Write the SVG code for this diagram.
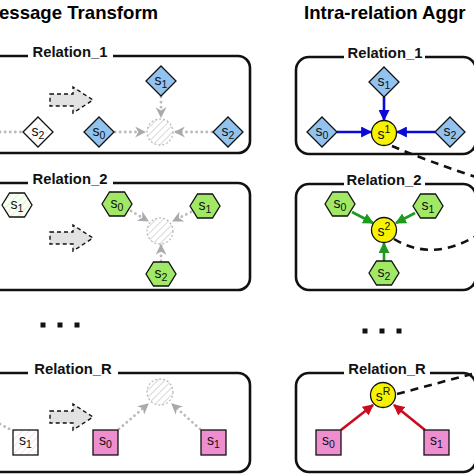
<svg xmlns="http://www.w3.org/2000/svg" width="474" height="474" viewBox="0 0 474 474">
<style>
.title{font-family:"Liberation Sans",Arial,Helvetica,sans-serif;font-weight:bold;font-size:18.6px;fill:#000}
.rl{font-family:"Liberation Sans",Arial,Helvetica,sans-serif;font-weight:bold;font-size:14.8px;fill:#111;text-anchor:middle}
.nl{font-family:"Liberation Sans",Arial,Helvetica,sans-serif;font-size:14px;fill:#111;text-anchor:middle}
.sub{font-size:10.5px}
.box{fill:none;stroke:#111;stroke-width:2.6}
.lblbg{fill:#fff}
.dia{fill:#92c3ef;stroke:#111;stroke-width:1.3}
.hex{fill:#a0e866;stroke:#111;stroke-width:1.3}
.sq{fill:#ee8ecf;stroke:#111;stroke-width:1.3}
.agg{fill:#f7f200;stroke:#111;stroke-width:1.3}
.ghost{fill:url(#hatchg);stroke:#bbb;stroke-width:1.3;stroke-dasharray:2 2}
.fdia{fill:url(#hatchb);stroke:#111;stroke-width:1.3}
.fhex{fill:url(#hatchgr);stroke:#111;stroke-width:1.3}
.fsq{fill:url(#hatchp);stroke:#111;stroke-width:1.3}
.dot{fill:none;stroke:#bbb;stroke-width:2.8;stroke-linecap:round;stroke-dasharray:0.1 5}
.blue{fill:none;stroke:#0a0ad8;stroke-width:2.6}
.green{fill:none;stroke:#1e9a1e;stroke-width:2.6}
.red{fill:none;stroke:#cc0c1e;stroke-width:2.6}
.dash{fill:none;stroke:#111;stroke-width:2.6;stroke-dasharray:8 6}
.barrow{fill:#e2e2e2;stroke:#111;stroke-width:1.4;stroke-dasharray:4 3}
</style>
<defs>
<pattern id="hatchg" patternUnits="userSpaceOnUse" width="5" height="5" patternTransform="rotate(45)">
<rect width="5" height="5" fill="#fff"/><line x1="0" y1="0" x2="0" y2="5" stroke="#c8c8c8" stroke-width="1.4"/>
</pattern>
<pattern id="hatchb" patternUnits="userSpaceOnUse" width="5" height="5" patternTransform="rotate(45)">
<rect width="5" height="5" fill="#fff"/><line x1="0" y1="0" x2="0" y2="5" stroke="#d6e4f2" stroke-width="1.2"/>
</pattern>
<pattern id="hatchgr" patternUnits="userSpaceOnUse" width="5" height="5" patternTransform="rotate(45)">
<rect width="5" height="5" fill="#fbfff5"/><line x1="0" y1="0" x2="0" y2="5" stroke="#cdeeb5" stroke-width="1.2"/>
</pattern>
<pattern id="hatchp" patternUnits="userSpaceOnUse" width="5" height="5" patternTransform="rotate(45)">
<rect width="5" height="5" fill="#fff"/><line x1="0" y1="0" x2="0" y2="5" stroke="#f0c8e2" stroke-width="1.2"/>
</pattern>
<marker id="mblue" viewBox="0 0 10 10" markerUnits="userSpaceOnUse" markerWidth="11" markerHeight="11" refX="9" refY="5" orient="auto"><path d="M0,0 L10,5 L0,10 z" fill="#0a0ad8"/></marker>
<marker id="mgreen" viewBox="0 0 10 10" markerUnits="userSpaceOnUse" markerWidth="11" markerHeight="11" refX="9" refY="5" orient="auto"><path d="M0,0 L10,5 L0,10 z" fill="#1e9a1e"/></marker>
<marker id="mred" viewBox="0 0 10 10" markerUnits="userSpaceOnUse" markerWidth="11" markerHeight="11" refX="9" refY="5" orient="auto"><path d="M0,0 L10,5 L0,10 z" fill="#cc0c1e"/></marker>
<marker id="mgray" viewBox="0 0 10 10" markerUnits="userSpaceOnUse" markerWidth="11" markerHeight="11" refX="9" refY="5" orient="auto"><path d="M0,0 L10,5 L0,10 L3,5 z" fill="#aaa"/></marker>
</defs>

<rect width="474" height="474" fill="#fff"/>

<text class="title" x="-1" y="19">essage Transform</text>
<text class="title" x="304" y="19">Intra-relation Aggr</text>

<!-- boxes -->
<g id="boxes">
<rect class="box" x="-20" y="56" width="270" height="97" rx="12"/>
<rect class="box" x="296" y="57" width="180" height="97" rx="13"/>
<rect class="box" x="-20" y="183" width="270" height="107" rx="12"/>
<rect class="box" x="296" y="184" width="180" height="106" rx="13"/>
<rect class="box" x="-20" y="373" width="270" height="99" rx="12"/>
<rect class="box" x="296" y="373" width="180" height="99" rx="13"/>
<rect class="lblbg" x="28" y="45" width="85" height="16"/>
<rect class="lblbg" x="344" y="45" width="81" height="16"/>
<rect class="lblbg" x="28" y="172" width="85" height="16"/>
<rect class="lblbg" x="344" y="173" width="81" height="16"/>
<rect class="lblbg" x="28" y="362" width="90" height="16"/>
<rect class="lblbg" x="344" y="362" width="86" height="16"/>
<text class="rl" x="70" y="57">Relation_1</text>
<text class="rl" x="385" y="58">Relation_1</text>
<text class="rl" x="70" y="184">Relation_2</text>
<text class="rl" x="384" y="185">Relation_2</text>
<text class="rl" x="73" y="374">Relation_R</text>
<text class="rl" x="387" y="374">Relation_R</text>
</g>

<!-- ellipsis -->
<g id="ellipsis" fill="#111">
<rect x="40.5" y="322.5" width="5" height="5"/><rect x="57.5" y="322.5" width="5" height="5"/><rect x="74.5" y="322.5" width="5" height="5"/>
<rect x="362.5" y="328.5" width="5" height="5"/><rect x="379.5" y="328.5" width="5" height="5"/><rect x="396.5" y="328.5" width="5" height="5"/>
</g>

<!-- connectors -->
<g id="connectors">
<line class="dot" x1="0" y1="132" x2="23" y2="132"/>
<line class="dot" x1="161" y1="97" x2="161" y2="117" marker-end="url(#mgray)"/>
<line class="dot" x1="115" y1="132" x2="145" y2="132" marker-end="url(#mgray)"/>
<line class="dot" x1="212" y1="132" x2="175" y2="132" marker-end="url(#mgray)"/>
<line class="dot" x1="131" y1="211" x2="148" y2="221" marker-end="url(#mgray)"/>
<line class="dot" x1="191" y1="212" x2="173" y2="221" marker-end="url(#mgray)"/>
<line class="dot" x1="161" y1="261" x2="161" y2="245" marker-end="url(#mgray)"/>
<line class="dot" x1="0" y1="424" x2="13" y2="431"/>
<line class="dot" x1="119" y1="429" x2="148" y2="404" marker-end="url(#mgray)"/>
<line class="dot" x1="200" y1="429" x2="172" y2="404" marker-end="url(#mgray)"/>

<line class="blue" x1="384" y1="97" x2="384" y2="120" marker-end="url(#mblue)"/>
<line class="blue" x1="337" y1="132" x2="371" y2="132" marker-end="url(#mblue)"/>
<line class="blue" x1="435" y1="132" x2="397" y2="132" marker-end="url(#mblue)"/>
<line class="green" x1="352" y1="212" x2="373" y2="223" marker-end="url(#mgreen)"/>
<line class="green" x1="415" y1="213" x2="396" y2="223" marker-end="url(#mgreen)"/>
<line class="green" x1="384" y1="261" x2="384" y2="243" marker-end="url(#mgreen)"/>
<line class="red" x1="341" y1="430" x2="373" y2="405" marker-end="url(#mred)"/>
<line class="red" x1="425" y1="430" x2="394" y2="405" marker-end="url(#mred)"/>

<path class="dash" d="M392,146 Q430,162 476,177"/>
<path class="dash" d="M394,239 Q432,262 476,236"/>
<path class="dash" d="M397,394 L472,374"/>

<path class="barrow" d="M50,94 L73,94 L73,87 L93,100 L73,113 L73,106 L50,106 Z"/>
<path class="barrow" d="M50,232 L73,232 L73,225 L93,238 L73,251 L73,244 L50,244 Z"/>
<path class="barrow" d="M50,411 L73,411 L73,404 L93,417 L73,430 L73,423 L50,423 Z"/>
</g>

<!-- left Relation_1 -->
<g id="L1_s2_faded"><path class="fdia" d="M38,117 L53,132 L38,147 L23,132 Z"/><text class="nl" x="38" y="136">s<tspan class="sub" dy="3">2</tspan></text></g>
<g id="L1_s0"><path class="dia" d="M99,117 L114,132 L99,147 L84,132 Z"/><text class="nl" x="99" y="136">s<tspan class="sub" dy="3">0</tspan></text></g>
<g id="L1_s1"><path class="dia" d="M161,66 L176,81 L161,96 L146,81 Z"/><text class="nl" x="161" y="85">s<tspan class="sub" dy="3">1</tspan></text></g>
<g id="L1_s2"><path class="dia" d="M228,117 L243,132 L228,147 L213,132 Z"/><text class="nl" x="228" y="136">s<tspan class="sub" dy="3">2</tspan></text></g>
<g id="L1_agg"><circle class="ghost" cx="160" cy="132" r="13"/></g>

<!-- left Relation_2 -->
<g id="L2_s1_faded"><path class="fhex" d="M2,205 L9.5,193 L24.5,193 L32,205 L24.5,217 L9.5,217 Z"/><text class="nl" x="17" y="209">s<tspan class="sub" dy="3">1</tspan></text></g>
<g id="L2_s0"><path class="hex" d="M102,204 L109.5,192 L124.5,192 L132,204 L124.5,216 L109.5,216 Z"/><text class="nl" x="117" y="208">s<tspan class="sub" dy="3">0</tspan></text></g>
<g id="L2_s1"><path class="hex" d="M190,206 L197.5,194 L212.5,194 L220,206 L212.5,218 L197.5,218 Z"/><text class="nl" x="205" y="210">s<tspan class="sub" dy="3">1</tspan></text></g>
<g id="L2_s2"><path class="hex" d="M146,274 L153.5,262 L168.5,262 L176,274 L168.5,286 L153.5,286 Z"/><text class="nl" x="161" y="278">s<tspan class="sub" dy="3">2</tspan></text></g>
<g id="L2_agg"><circle class="ghost" cx="160" cy="231" r="13"/></g>

<!-- left Relation_R -->
<g id="LR_s1_faded"><rect class="fsq" x="13" y="430" width="25" height="25"/><text class="nl" x="25.5" y="445">s<tspan class="sub" dy="3">1</tspan></text></g>
<g id="LR_s0"><rect class="sq" x="93" y="430" width="25" height="25"/><text class="nl" x="105.5" y="445">s<tspan class="sub" dy="3">0</tspan></text></g>
<g id="LR_s1"><rect class="sq" x="201" y="430" width="25" height="25"/><text class="nl" x="213.5" y="445">s<tspan class="sub" dy="3">1</tspan></text></g>
<g id="LR_agg"><circle class="ghost" cx="160" cy="392" r="13"/></g>

<!-- right Relation_1 -->
<g id="R1_s1"><path class="dia" d="M384,67 L399,82 L384,97 L369,82 Z"/><text class="nl" x="384" y="86">s<tspan class="sub" dy="3">1</tspan></text></g>
<g id="R1_s0"><path class="dia" d="M322,117 L337,132 L322,147 L307,132 Z"/><text class="nl" x="322" y="136">s<tspan class="sub" dy="3">0</tspan></text></g>
<g id="R1_s2"><path class="dia" d="M450,117 L465,132 L450,147 L435,132 Z"/><text class="nl" x="450" y="136">s<tspan class="sub" dy="3">2</tspan></text></g>
<g id="R1_agg"><circle class="agg" cx="384" cy="133" r="12.5"/><text class="nl" x="384" y="139">s<tspan class="sub" dy="-6">1</tspan></text></g>

<!-- right Relation_2 -->
<g id="R2_s0"><path class="hex" d="M325,204 L332.5,192 L347.5,192 L355,204 L347.5,216 L332.5,216 Z"/><text class="nl" x="340" y="208">s<tspan class="sub" dy="3">0</tspan></text></g>
<g id="R2_s1"><path class="hex" d="M413,206 L420.5,194 L435.5,194 L443,206 L435.5,218 L420.5,218 Z"/><text class="nl" x="428" y="210">s<tspan class="sub" dy="3">1</tspan></text></g>
<g id="R2_s2"><path class="hex" d="M369,273 L376.5,261 L391.5,261 L399,273 L391.5,285 L376.5,285 Z"/><text class="nl" x="384" y="277">s<tspan class="sub" dy="3">2</tspan></text></g>
<g id="R2_agg"><circle class="agg" cx="384" cy="230" r="12.5"/><text class="nl" x="384" y="236">s<tspan class="sub" dy="-6">2</tspan></text></g>

<!-- right Relation_R -->
<g id="RR_s0"><rect class="sq" x="316" y="430" width="25" height="25"/><text class="nl" x="328.5" y="445">s<tspan class="sub" dy="3">0</tspan></text></g>
<g id="RR_s1"><rect class="sq" x="424" y="430" width="25" height="25"/><text class="nl" x="436.5" y="445">s<tspan class="sub" dy="3">1</tspan></text></g>
<g id="RR_agg"><circle class="agg" cx="383" cy="395" r="12.5"/><text class="nl" x="383" y="401">s<tspan class="sub" dy="-6">R</tspan></text></g>
</svg>
